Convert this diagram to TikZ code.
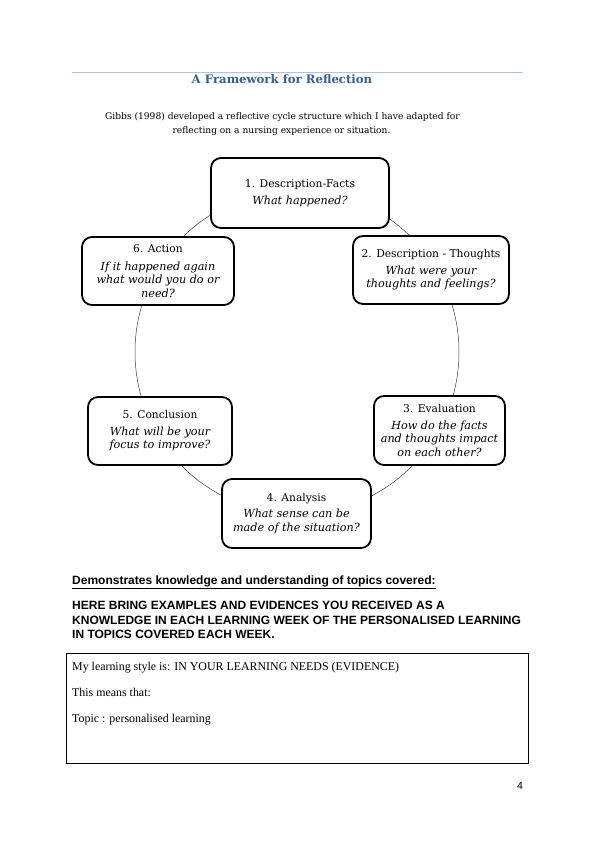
\documentclass[tikz,border=0pt]{standalone}
\usepackage{fontspec}
\setmainfont{DejaVu Serif}
\newfontfamily\arialf{Liberation Sans}
\newfontfamily\timesf{Liberation Serif}
\definecolor{titleblue}{RGB}{54,95,145}
\definecolor{rulecol}{RGB}{175,195,222}
\begin{document}
\begin{tikzpicture}[x=1pt,y=-1pt,
  stage/.style={draw=black, line width=1.8pt, rounded corners=10pt, fill=white, align=center, inner sep=0pt,
    font=\fontsize{10.7}{13.5}\selectfont},
  cyc/.style={draw=black!75, line width=0.5pt},
  headtxt/.style={font=\arialf\bfseries\fontsize{12}{14.5}\selectfont, anchor=base west, inner sep=0pt},
  boxtxt/.style={font=\timesf\fontsize{11.9}{13}\selectfont, anchor=base west, inner sep=0pt},
  q/.style={font=\itshape\fontsize{11.2}{13.5}\selectfont},
]
\newcommand\qi[1]{{\fontsize{11.2}{13.5}\selectfont\itshape #1}}
\useasboundingbox (0,0) rectangle (596,842);
\fill[white] (0,0) rectangle (596,842);
% header rule
\coordinate (r1) at (72,72);
\coordinate (r2) at (523,72);
\draw[rulecol, line width=0.8pt] (r1) -- (r2);
\node (title) [font=\bfseries\fontsize{11.7}{13}\selectfont, text=titleblue, anchor=base, inner sep=0pt] at (282,84) {A Framework for Reflection};
\node (intro1) [font=\fontsize{9.1}{13}\selectfont, anchor=base, inner sep=0pt] at (282.5,120)
  {Gibbs (1998) developed a reflective cycle structure which I have adapted for};
\node (intro2) [font=\fontsize{9.1}{13}\selectfont, anchor=base, inner sep=0pt] at (281.5,133.5)
  {reflecting on a nursing experience or situation.};
% cycle
\coordinate (cc) at (297,352);
\draw[cyc] (cc) circle[radius=162pt];
% stages
\node (s1) [stage, minimum width=178, minimum height=70] at (300,193)
  {1. Description-Facts\\[3pt]\qi{What happened?}};
\node (s2) [stage, minimum width=156, minimum height=68] at (431,270)
  {2. Description - Thoughts\\[3pt]\qi{What were your}\\\qi{thoughts and feelings?}};
\node (s3) [stage, minimum width=131, minimum height=69] at (439.5,430.5)
  {3. Evaluation\\[3pt]\qi{How do the facts}\\\qi{and thoughts impact}\\\qi{on each other?}};
\node (s4) [stage, minimum width=149, minimum height=69] at (296.5,513.5)
  {4. Analysis\\[3pt]\qi{What sense can be}\\\qi{made of the situation?}};
\node (s5) [stage, minimum width=144, minimum height=68] at (160,431)
  {5. Conclusion\\[3pt]\qi{What will be your}\\\qi{focus to improve?}};
\node (s6) [stage, minimum width=152, minimum height=68] at (158,271)
  {6. Action\\[4pt]\qi{If it happened again}\\\qi{what would you do or}\\\qi{need?}};
% lower text
\node (dem) [headtxt] at (72,584)
  {\underline{Demonstrates knowledge and understanding of topics covered:}};
\node (here1) [headtxt] at (72,609.5) {HERE BRING EXAMPLES AND EVIDENCES YOU RECEIVED AS A};
\node (here2) [headtxt] at (72,624) {KNOWLEDGE IN EACH LEARNING WEEK OF THE PERSONALISED LEARNING};
\node (here3) [headtxt] at (72,638.5) {IN TOPICS COVERED EACH WEEK.};
\node (box) [draw=black, line width=0.8pt, minimum width=462, minimum height=110, anchor=north west, inner sep=0pt] at (66,653) {};
\node (l1) [boxtxt] at (72,670) {My learning style is: IN YOUR LEARNING NEEDS (EVIDENCE)};
\node (l2) [boxtxt] at (72,696) {This means that:};
\node (l3) [boxtxt] at (72,722) {Topic : personalised learning};
\node (pg) [font=\arialf\fontsize{10.5}{12}\selectfont, anchor=base, inner sep=0pt] at (520,789) {4};
\end{tikzpicture}
\end{document}
